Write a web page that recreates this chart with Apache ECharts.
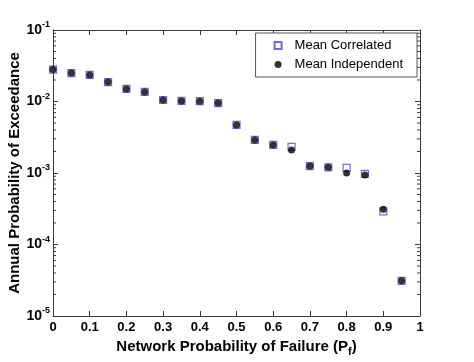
<!DOCTYPE html>
<html><head><meta charset="utf-8">
<script src="https://cdn.jsdelivr.net/npm/echarts@6/dist/echarts.min.js"></script>
<style>html,body{margin:0;padding:0;background:#fff}#c{width:474px;height:362px}</style>
</head><body><div id="c"></div>
<script>
var pf = [0,0.05,0.1,0.15,0.2,0.25,0.3,0.35,0.4,0.45,0.5,0.55,0.6,0.65,0.7,0.75,0.8,0.85,0.9,0.95];
var meanCorrelated = [0.028,0.025,0.0235,0.0187,0.015,0.0136,0.0105,0.0102,0.0101,0.0095,0.0047,0.0029,0.00247,0.00232,0.00125,0.0012,0.00118,0.00097,0.00029,0.000031];
var meanIndependent = [0.028,0.025,0.0235,0.0187,0.015,0.0136,0.0105,0.0102,0.0101,0.0095,0.0047,0.0029,0.00247,0.0021,0.00125,0.0012,0.001,0.00094,0.00031,0.000031];
var xTicks = [0,0.1,0.2,0.3,0.4,0.5,0.6,0.7,0.8,0.9,1];
var yExponents = [-5,-4,-3,-2,-1];

var FONT = '"Liberation Sans", Arial, sans-serif';
var AX = '#3a3a3a';
var chart = echarts.init(document.getElementById('c'));
function pairs(v){ return pf.map(function(x,i){ return [x, v[i]]; }); }
var axisBase = {
  axisLine:{show:true, onZero:false, lineStyle:{color:AX, width:1}},
  axisTick:{show:true, inside:true, length:5, lineStyle:{color:AX}},
  splitLine:{show:false}
};
var option = {
  animation:false,
  backgroundColor:'#fff',
  grid:{left:53, top:30, right:54, bottom:46, containLabel:false, outerBoundsMode:'none'},
  legend:{
    orient:'vertical', right:57, top:33,
    backgroundColor:'#fff', borderColor:'#555', borderWidth:1,
    padding:[6,14,6,18], itemGap:6, itemWidth:7, itemHeight:7,
    textStyle:{fontFamily:FONT, fontSize:13, color:'#000', padding:[0,0,0,8]},
    data:['Mean Correlated','Mean Independent']
  },
  xAxis:[
    Object.assign({type:'value', min:0, max:1, interval:0.1,
      axisLabel:{fontFamily:FONT, fontWeight:'bold', fontSize:13, color:'#000', margin:5,
        formatter:function(v){ return String(Math.round(v*10)/10); }},
      name:'{a|Network Probability of Failure (P}{s|f}{a|)}', nameLocation:'middle', nameGap:20, nameMoveOverlap:false,
      nameTextStyle:{verticalAlign:'top', rich:{
        a:{fontFamily:FONT, fontWeight:'bold', fontSize:15, color:'#000'},
        s:{fontFamily:FONT, fontWeight:'bold', fontSize:11, color:'#000', verticalAlign:'top', padding:[10,0,0,0]}}}
    }, axisBase),
    Object.assign({type:'value', min:0, max:1, interval:0.1, position:'top', axisLabel:{show:false}}, axisBase)
  ],
  yAxis:[
    Object.assign({type:'log', logBase:10, min:1e-5, max:1e-1,
      axisLabel:{margin:3, formatter:function(v){ var e=Math.round(Math.log10(v)); return '{b|10}{e|'+e+'}'; },
        rich:{b:{fontFamily:FONT, fontWeight:'bold', fontSize:14, color:'#000'},
              e:{fontFamily:FONT, fontWeight:'bold', fontSize:9, color:'#000', verticalAlign:'bottom', padding:[0,0,10,0]}}},
      name:'Annual Probability of Exceedance', nameLocation:'middle', nameGap:31, nameMoveOverlap:false,
      nameTextStyle:{fontFamily:FONT, fontWeight:'bold', fontSize:15, color:'#000'}
    }, axisBase),
    Object.assign({type:'log', logBase:10, min:1e-5, max:1e-1, position:'right', axisLabel:{show:false}}, axisBase)
  ],
  series:[
    {name:'Mean Correlated', type:'scatter', symbol:'rect', symbolSize:7, data:pairs(meanCorrelated),
      itemStyle:{color:'#fff', borderColor:'#4848d0', borderWidth:1.2}, z:2},
    {name:'Mean Independent', type:'scatter', symbol:'circle', symbolSize:7, data:pairs(meanIndependent),
      itemStyle:{color:'#000'}, z:3}
  ]
};
chart.setOption(option);

// MATLAB-style log minor ticks (2..9 within each decade), positioned through the axis scale
var g = [];
var xl = chart.convertToPixel({xAxisIndex:0}, 0);
var xr = chart.convertToPixel({xAxisIndex:0}, 1);
yExponents.forEach(function(e){
  if (e >= -1) return;
  for (var k=2;k<=9;k++){
    var y = chart.convertToPixel({yAxisIndex:0}, k*Math.pow(10,e));
    g.push({type:'line', shape:{x1:xl, y1:y, x2:xl+3, y2:y}, style:{stroke:AX, lineWidth:1}, silent:true});
    g.push({type:'line', shape:{x1:xr, y1:y, x2:xr-3, y2:y}, style:{stroke:AX, lineWidth:1}, silent:true});
  }
});
chart.setOption({graphic:g});
</script></body></html>
